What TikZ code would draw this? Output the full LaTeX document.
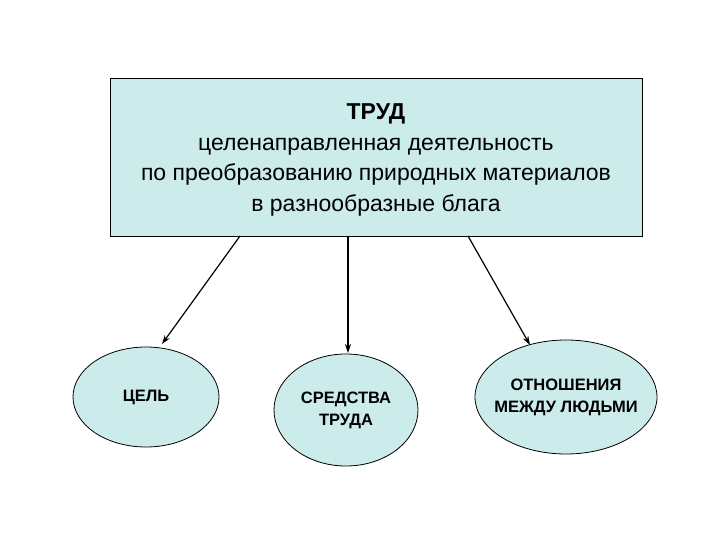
\documentclass[tikz,border=0pt]{standalone}
\usepackage{fontspec}
\setmainfont{Liberation Sans}
\usetikzlibrary{shapes.geometric,arrows.meta}
\definecolor{boxfill}{RGB}{204,236,236}
\begin{document}
\begin{tikzpicture}[x=1pt,y=-1pt,
  oval/.style={ellipse,draw=black,line width=0.8pt,fill=boxfill,inner sep=-12pt,font=\bfseries\fontsize{16.5}{22}\selectfont,align=center},
  conn/.style={line width=1.2pt,-{Stealth[length=9pt,width=6pt]}}]
\useasboundingbox[fill=white] (0,0) rectangle (720,540);
\node[draw=black,line width=0.8pt,fill=boxfill,minimum width=532pt,minimum height=158pt] (box) at (376,157) {};
\node[align=center,font=\fontsize{23}{27.5}\selectfont] (txt) at (376,160)
 {\textbf{ТРУД}\\[3pt]целенаправленная деятельность\\[3pt]по преобразованию природных материалов\\[3pt]в разнообразные блага};
\node[oval,minimum width=146pt,minimum height=100pt] (e1) at (146,397) {ЦЕЛЬ};
\node[oval,minimum width=144pt,minimum height=112pt] (e2) at (346,410) {СРЕДСТВА\\ТРУДА};
\node[oval,minimum width=182pt,minimum height=114pt] (e3) at (566,397) {ОТНОШЕНИЯ\\МЕЖДУ ЛЮДЬМИ};
\coordinate (s1) at (240,236);
\coordinate (s2) at (348,236);
\coordinate (s3) at (468,236);
\coordinate (t1) at (162,344);
\coordinate (t2) at (348,353);
\coordinate (t3) at (530,345);
\draw[conn] (s1) -- (t1);
\draw[conn] (s2) -- (t2);
\draw[conn] (s3) -- (t3);
\end{tikzpicture}
\end{document}
